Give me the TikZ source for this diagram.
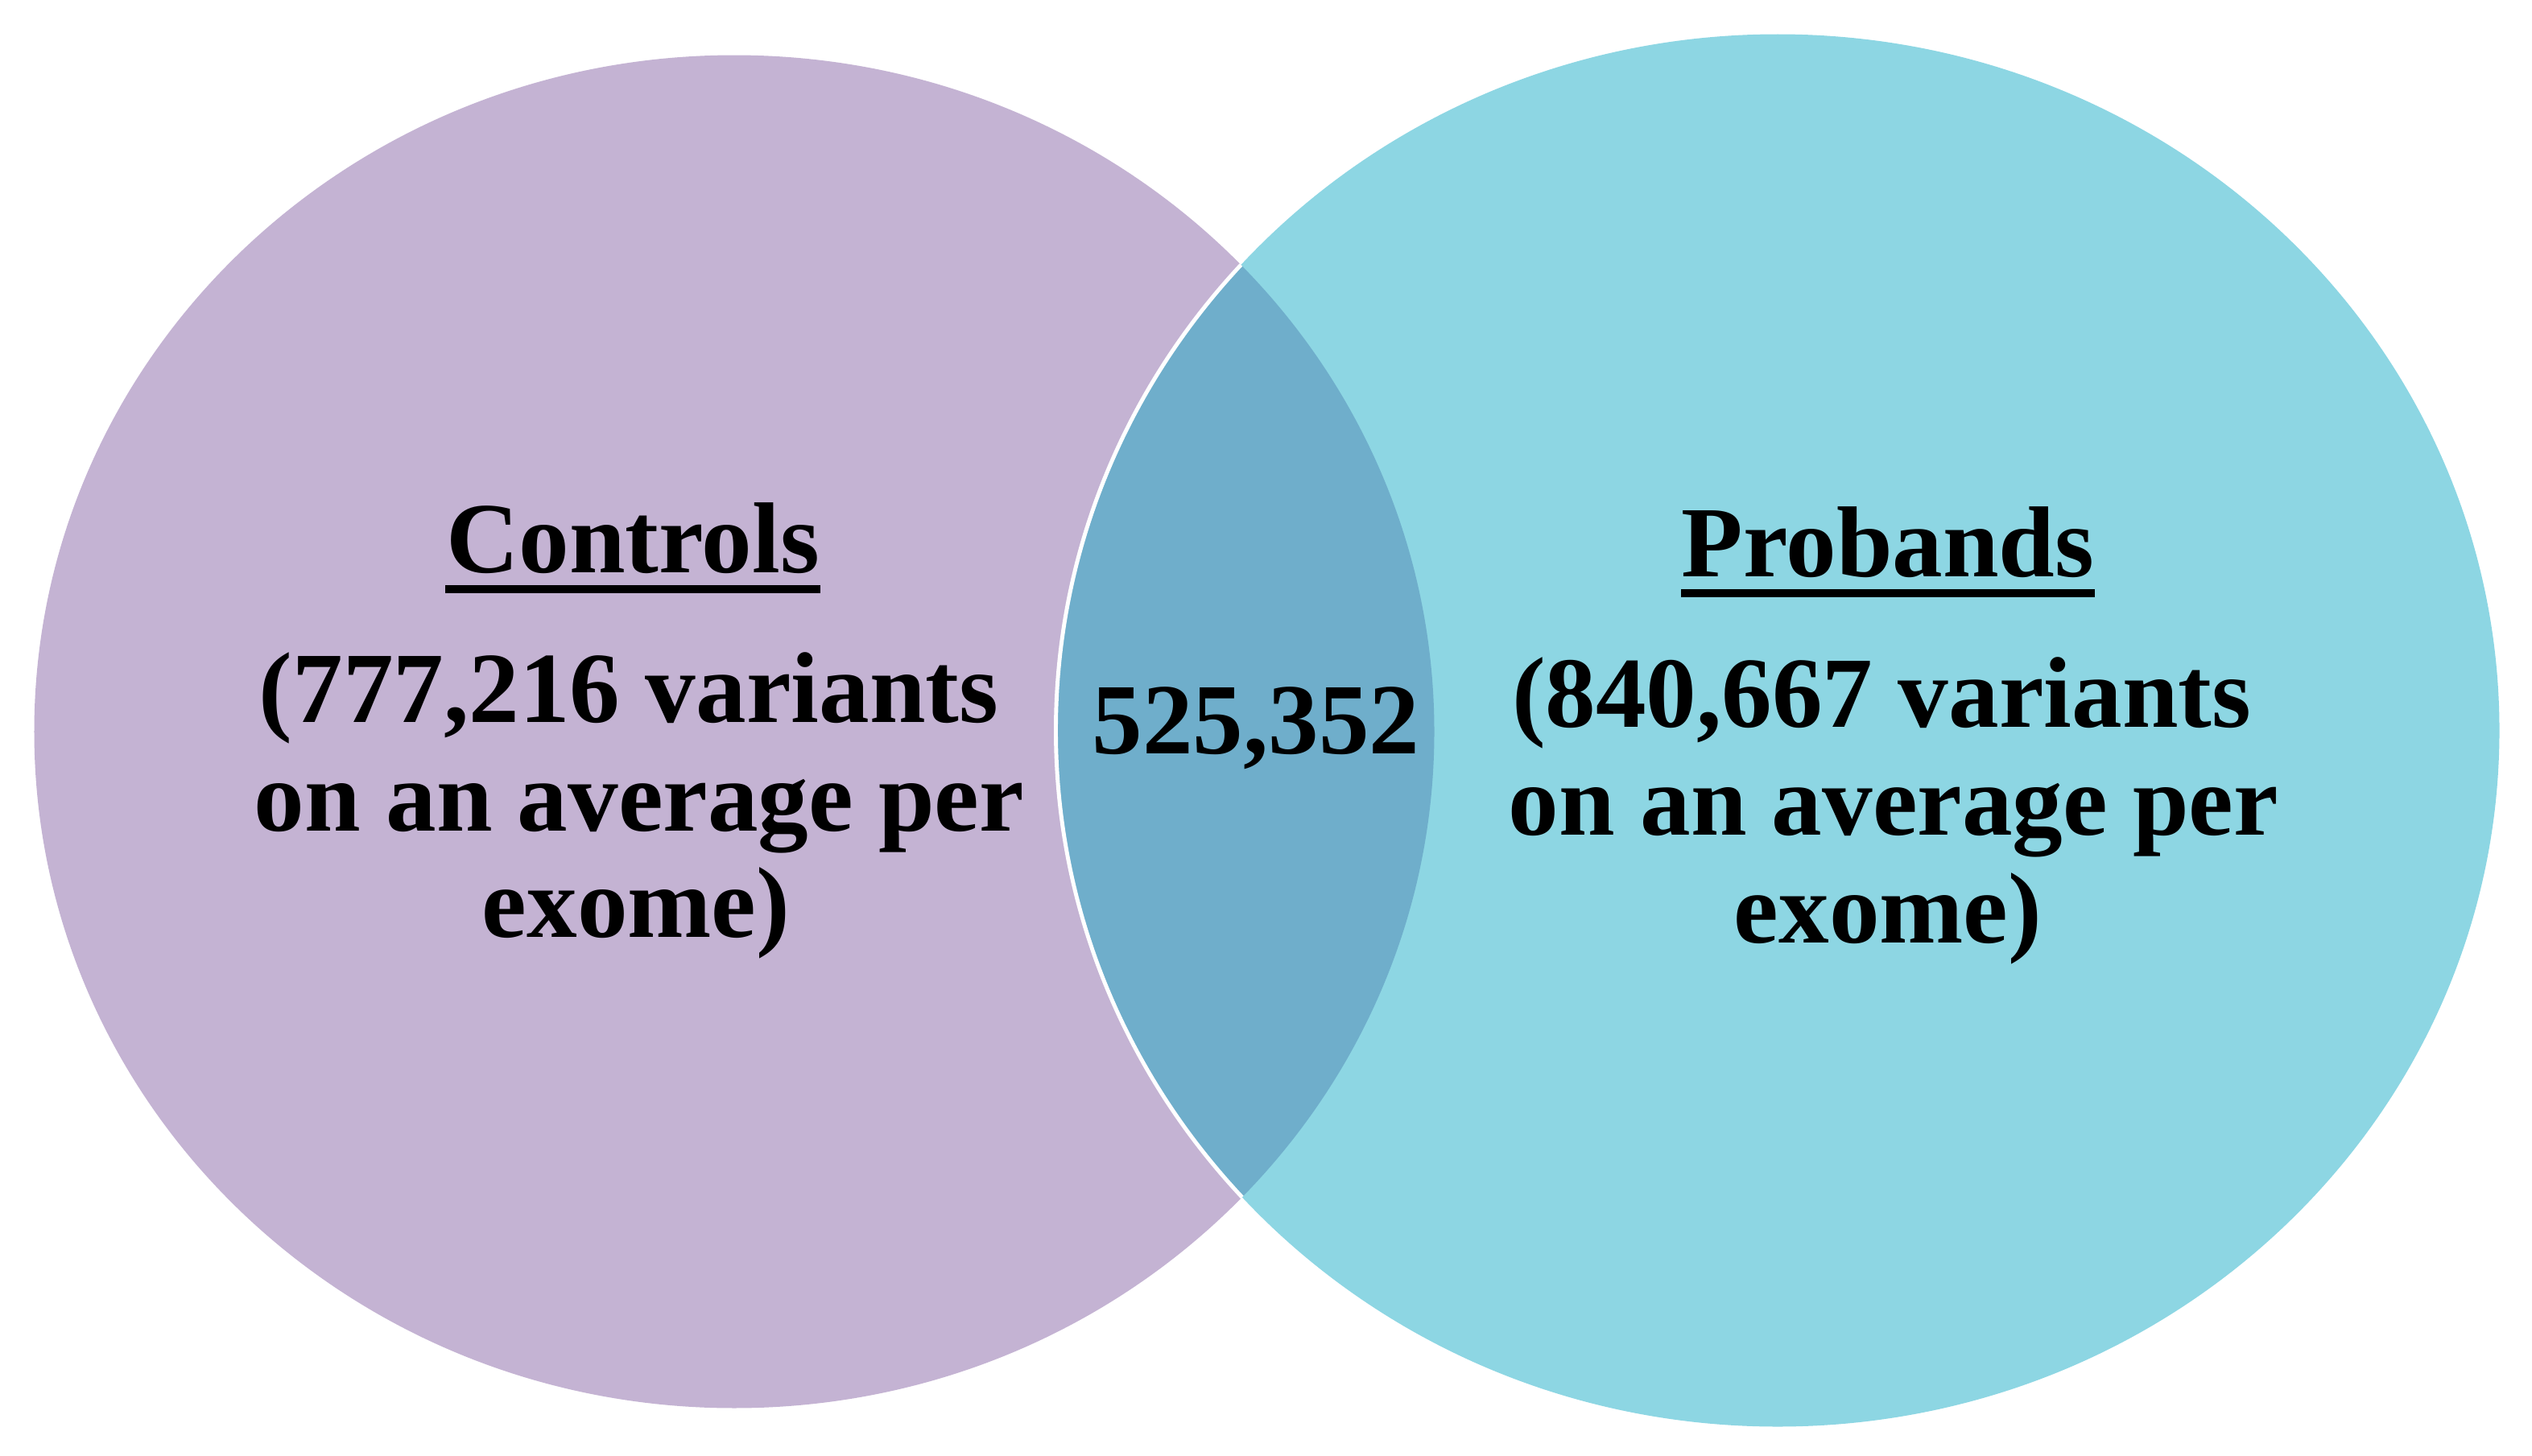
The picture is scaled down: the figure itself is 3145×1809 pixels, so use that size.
\documentclass[tikz,border=0pt]{standalone}
\usepackage{fontspec}
\setmainfont{Liberation Serif}
\definecolor{ctrlfill}{HTML}{C4B3D3}
\definecolor{probfill}{HTML}{8DD6E3}
\definecolor{overlapfill}{HTML}{6FAECB}
\begin{document}
\begin{tikzpicture}[x=0.01cm,y=-0.01cm,
  lbl/.style={font=\bfseries\fontsize{35.6}{38}\selectfont, inner sep=0pt, anchor=base, text=black},
  ulstyle/.style={line width=2.8pt, black},
  rimstyle/.style={white, line width=1.4pt}]
\useasboundingbox (0,0) rectangle (3145,1809);
% ellipses
\fill[ctrlfill] (912,909) ellipse [x radius=8.69cm, y radius=8.40cm];
\fill[probfill] (2208,907.5) ellipse [x radius=8.96cm, y radius=8.645cm];
\begin{scope}
  \clip (912,909) ellipse [x radius=8.69cm, y radius=8.40cm];
  \fill[overlapfill] (2208,907.5) ellipse [x radius=8.96cm, y radius=8.645cm];
  \draw[rimstyle] (2208,907.5) ellipse [x radius=8.96cm, y radius=8.645cm];
\end{scope}
% left texts
\node[lbl] (ctitle) at (786,711) {Controls};
\draw[ulstyle] ([yshift=-0.21cm]ctitle.base west) -- ([yshift=-0.21cm]ctitle.base east);
\node[lbl] (cl1) at (781,897) {(777,216 variants};
\node[lbl] (cl2) at (794,1032) {on an average per};
\node[lbl] (cl3) at (790,1164) {exome)};
% centre
\node[lbl] (mid) at (1560,936) {525,352};
% right texts
\node[lbl] (ptitle) at (2345,716) {Probands};
\draw[ulstyle] ([yshift=-0.21cm]ptitle.base west) -- ([yshift=-0.21cm]ptitle.base east);
\node[lbl] (pl1) at (2337,903) {(840,667 variants};
\node[lbl] (pl2) at (2352,1037) {on an average per};
\node[lbl] (pl3) at (2345,1171) {exome)};
\end{tikzpicture}
\end{document}
